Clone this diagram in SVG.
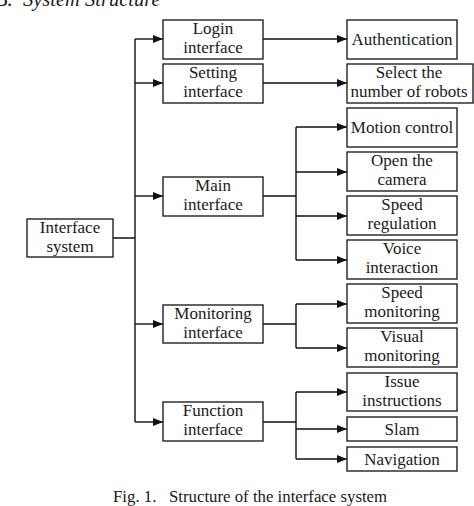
<svg xmlns="http://www.w3.org/2000/svg" width="474" height="506" viewBox="0 0 474 506">
<style>
.box{fill:#fff;stroke:#222;stroke-width:1.4}
.lbl{font-family:"Liberation Serif","Times New Roman",serif;font-size:17px;fill:#1a1a1a;text-anchor:middle}
.con{fill:none;stroke:#111;stroke-width:1.4}
.head{font-family:"Liberation Serif","Times New Roman",serif;font-size:20.5px;font-style:italic;fill:#1a1a1a}
.cap{font-family:"Liberation Serif","Times New Roman",serif;font-size:16.8px;fill:#1a1a1a}
</style>
<defs>
<marker id="a" viewBox="0 0 10 8" refX="10" refY="4" markerWidth="10" markerHeight="8" markerUnits="userSpaceOnUse" orient="auto">
<path d="M0,0 L10,4 L0,8 z" fill="#111"/>
</marker>
</defs>
<rect width="474" height="506" fill="#fff"/>
<text class="head" y="6"><tspan x="-5">B.</tspan><tspan x="23">System Structure</tspan></text>

<g id="connectors">
<path class="con" d="M113,238 H135 M135,39 V422"/>
<path class="con" d="M135,39 H163" marker-end="url(#a)"/>
<path class="con" d="M135,83 H163" marker-end="url(#a)"/>
<path class="con" d="M135,196 H163" marker-end="url(#a)"/>
<path class="con" d="M135,324 H163" marker-end="url(#a)"/>
<path class="con" d="M135,422 H163" marker-end="url(#a)"/>
<path class="con" d="M263,39 H347" marker-end="url(#a)"/>
<path class="con" d="M263,83 H347" marker-end="url(#a)"/>
<path class="con" d="M263,196 H296 M296,127 V260"/>
<path class="con" d="M296,127 H347" marker-end="url(#a)"/>
<path class="con" d="M296,172 H347" marker-end="url(#a)"/>
<path class="con" d="M296,216 H347" marker-end="url(#a)"/>
<path class="con" d="M296,260 H347" marker-end="url(#a)"/>
<path class="con" d="M263,324 H296 M296,304 V348"/>
<path class="con" d="M296,304 H347" marker-end="url(#a)"/>
<path class="con" d="M296,348 H347" marker-end="url(#a)"/>
<path class="con" d="M263,422 H296 M296,392 V459"/>
<path class="con" d="M296,392 H347" marker-end="url(#a)"/>
<path class="con" d="M296,429 H347" marker-end="url(#a)"/>
<path class="con" d="M296,459 H347" marker-end="url(#a)"/>
</g>

<g id="interface-system"><rect class="box" x="27" y="219" width="86" height="38"/><text class="lbl"><tspan x="70" y="232.5">Interface</tspan><tspan x="70" y="252">system</tspan></text></g>

<g id="login"><rect class="box" x="163" y="20" width="100" height="39"/><text class="lbl"><tspan x="213" y="33.5">Login</tspan><tspan x="213" y="53">interface</tspan></text></g>
<g id="setting"><rect class="box" x="163" y="64" width="100" height="39"/><text class="lbl"><tspan x="213" y="77.5">Setting</tspan><tspan x="213" y="97">interface</tspan></text></g>
<g id="main"><rect class="box" x="163" y="177" width="100" height="39"/><text class="lbl"><tspan x="213" y="190.5">Main</tspan><tspan x="213" y="210">interface</tspan></text></g>
<g id="monitoring"><rect class="box" x="163" y="305" width="100" height="38"/><text class="lbl"><tspan x="213" y="318.5">Monitoring</tspan><tspan x="213" y="338">interface</tspan></text></g>
<g id="function"><rect class="box" x="163" y="402" width="100" height="39"/><text class="lbl"><tspan x="213" y="415.5">Function</tspan><tspan x="213" y="435">interface</tspan></text></g>

<g id="authentication"><rect class="box" x="347" y="20" width="110" height="39"/><text class="lbl" x="402" y="45">Authentication</text></g>
<g id="select-robots"><rect class="box" x="347" y="64" width="126" height="39"/><text class="lbl"><tspan x="409" y="77.5">Select the</tspan><tspan x="409" y="97">number of robots</tspan></text></g>
<g id="motion-control"><rect class="box" x="347" y="108" width="110" height="39"/><text class="lbl" x="402" y="133">Motion control</text></g>
<g id="open-camera"><rect class="box" x="347" y="152" width="110" height="39"/><text class="lbl"><tspan x="402" y="165.5">Open the</tspan><tspan x="402" y="185">camera</tspan></text></g>
<g id="speed-regulation"><rect class="box" x="347" y="196" width="110" height="39"/><text class="lbl"><tspan x="402" y="209.5">Speed</tspan><tspan x="402" y="229">regulation</tspan></text></g>
<g id="voice-interaction"><rect class="box" x="347" y="240" width="110" height="39"/><text class="lbl"><tspan x="402" y="253.5">Voice</tspan><tspan x="402" y="273">interaction</tspan></text></g>
<g id="speed-monitoring"><rect class="box" x="347" y="284" width="110" height="39"/><text class="lbl"><tspan x="402" y="297.5">Speed</tspan><tspan x="402" y="317">monitoring</tspan></text></g>
<g id="visual-monitoring"><rect class="box" x="347" y="328" width="110" height="39"/><text class="lbl"><tspan x="402" y="341.5">Visual</tspan><tspan x="402" y="361">monitoring</tspan></text></g>
<g id="issue-instructions"><rect class="box" x="347" y="373" width="110" height="38"/><text class="lbl"><tspan x="402" y="386.5">Issue</tspan><tspan x="402" y="406">instructions</tspan></text></g>
<g id="slam"><rect class="box" x="347" y="417" width="110" height="24"/><text class="lbl" x="402" y="434.5">Slam</text></g>
<g id="navigation"><rect class="box" x="347" y="447" width="110" height="24"/><text class="lbl" x="402" y="465">Navigation</text></g>

<text class="cap" y="502"><tspan x="113">Fig. 1.</tspan><tspan x="169">Structure of the interface system</tspan></text>
</svg>
